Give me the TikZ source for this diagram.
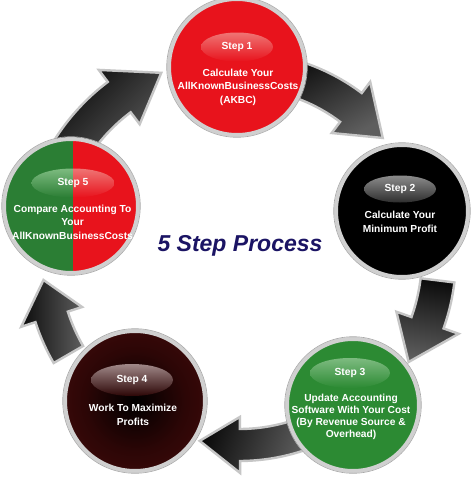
\documentclass[tikz,border=0pt]{standalone}
\usepackage{fontspec}
\setmainfont{Liberation Sans}
\usetikzlibrary{shapes.geometric}
\definecolor{stepred}{HTML}{E8131C}
\definecolor{stepredlight}{HTML}{EF7474}
\definecolor{stepgreen}{HTML}{2C8A33}
\definecolor{stepgreenedge}{HTML}{1F6B25}
\definecolor{stepgreenlight}{HTML}{7DBB80}
\definecolor{stepgreenB}{HTML}{2B7E34}
\definecolor{maroonedge}{HTML}{5A1010}
\definecolor{maroonmid}{HTML}{2C0606}
\definecolor{maroonlight}{HTML}{A08888}
\definecolor{greylight}{HTML}{8C8C8C}
\definecolor{greydark}{HTML}{2E2E2E}
\definecolor{titleblue}{HTML}{1B1464}
\definecolor{ringgray}{HTML}{D0D0D0}
\definecolor{ringedge}{HTML}{A8A8A8}
\definecolor{arrowring}{HTML}{C6C6C6}
\definecolor{arrowdark}{HTML}{0C0C0C}
\definecolor{arrowlight}{HTML}{5E5E5E}
\pgfdeclareradialshading{maroonball}{\pgfpoint{0bp}{0bp}}{color(0bp)=(black); color(18bp)=(maroonmid); color(50bp)=(maroonedge)}
\pgfdeclareradialshading{greenball}{\pgfpoint{0bp}{0bp}}{color(0bp)=(stepgreen); color(34bp)=(stepgreen); color(50bp)=(stepgreenedge)}
\def\ccx{239}
\def\ccy{256}
% #1 options, #2 radius, #3 tail angle, #4 head base angle, #5 tip angle, #6 body half width, #7 head half width
\newcommand{\cyclearrow}[7]{%
  \draw[arrowshape,#1] plot[domain=#3:#4,samples=40] ({\ccx+(#2+#6)*cos(\x)},{\ccy+(#2+#6)*sin(\x)})
  -- ({\ccx+(#2+#7)*cos(#4)},{\ccy+(#2+#7)*sin(#4)})
  -- ({\ccx+#2*cos(#5)},{\ccy+#2*sin(#5)})
  -- ({\ccx+(#2-#7)*cos(#4)},{\ccy+(#2-#7)*sin(#4)})
  -- plot[domain=#4:#3,samples=40] ({\ccx+(#2-#6)*cos(\x)},{\ccy+(#2-#6)*sin(\x)})
  -- cycle;}
\tikzset{
  stepcircle/.style={circle, inner sep=0pt, draw=ringgray, line width=4pt},
  outerring/.style={draw=ringedge, line width=0.6pt},
  hilite/.style={ellipse, inner sep=0pt, text=white, font=\bfseries\fontsize{10.3}{12}\selectfont},
  steptext/.style={align=center, text=white, inner sep=0pt, font=\bfseries\fontsize{10.2}{13.4}\selectfont},
  arrowshape/.style={draw=arrowring, line width=2.4pt, line join=miter, top color=arrowlight, bottom color=arrowdark},
}
\begin{document}
\begin{tikzpicture}[x=1pt, y=-1pt]
\useasboundingbox[fill=white] (0,0) rectangle (474,482);
% arrows (drawn below the circles)
\cyclearrow{shading angle=-135}{199}{-150}{-127}{-113}{19}{34}
\cyclearrow{shading angle=-150}{186}{-78}{-53}{-39.4}{18}{32}
\cyclearrow{shading angle=170}{200}{7}{19.5}{32}{17}{33}
\cyclearrow{shading angle=-110}{189}{70}{89.7}{102}{16}{28}
\cyclearrow{shading angle=-90}{197}{150}{162}{173}{17}{32}
% step circles
\node[stepcircle, minimum size=136pt, fill=stepred] (c1) at (237,67) {};
\node[stepcircle, minimum size=132pt, fill=black] (c2) at (402,211) {};
\node[stepcircle, minimum size=132pt, shade, shading=greenball] (c3) at (353,405) {};
\node[stepcircle, minimum size=140pt, shade, shading=maroonball] (c4) at (135,401) {};
\node[stepcircle, minimum size=134pt,
  path picture={
    \fill[stepgreenB] (path picture bounding box.south west) rectangle ([xshift=2pt]path picture bounding box.north);
    \fill[stepred] ([xshift=2pt]path picture bounding box.south) rectangle (path picture bounding box.north east);
  }] (c5) at (71,206) {};
\foreach \c/\r in {c1/70.3, c2/68.3, c3/68.3, c4/72.3, c5/69.3}
  \draw[outerring] (\c) circle (\r pt);
% highlight ellipses with step labels
\node[hilite, minimum width=72pt, minimum height=29pt, top color=stepredlight, bottom color=stepred] (e1) at (237,47) {Step 1};
\node[hilite, minimum width=72pt, minimum height=27pt, top color=greylight, bottom color=greydark] (e2) at (400,189) {Step 2};
\node[hilite, minimum width=80pt, minimum height=30pt, top color=stepgreenlight, bottom color=stepgreen] (e3) at (350,373) {Step 3};
\node[hilite, minimum width=82pt, minimum height=32pt, top color=maroonlight, bottom color=maroonmid] (e4) at (132,380) {Step 4};
\node[hilite, minimum width=83pt, minimum height=29pt,
  path picture={
    \shade[top color=stepgreenlight, bottom color=stepgreenB] (path picture bounding box.south west) rectangle (path picture bounding box.north);
    \shade[top color=stepredlight, bottom color=stepred] (path picture bounding box.south) rectangle (path picture bounding box.north east);
  }] (e5) at (73,183) {Step 5};
% step texts
\node[steptext] (t1) at (238,87) {Calculate Your\\AllKnownBusinessCosts\\(AKBC)};
\node[steptext] (t2) at (400,222) {Calculate Your\\Minimum Profit};
\node[steptext, font=\bfseries\fontsize{10.2}{11.8}\selectfont] (t3) at (351,417) {Update Accounting\\Software With Your Cost\\(By Revenue Source \&\\Overhead)};
\node[steptext] (t4) at (133,415) {Work To Maximize\\Profits};
\node[steptext] (t5) at (72.5,222) {Compare Accounting To\\Your\\AllKnownBusinessCosts};
% title
\node[font=\bfseries\itshape\fontsize{23}{26}\selectfont, text=titleblue, inner sep=0pt] (title) at (240,246) {5 Step Process};
\end{tikzpicture}
\end{document}
